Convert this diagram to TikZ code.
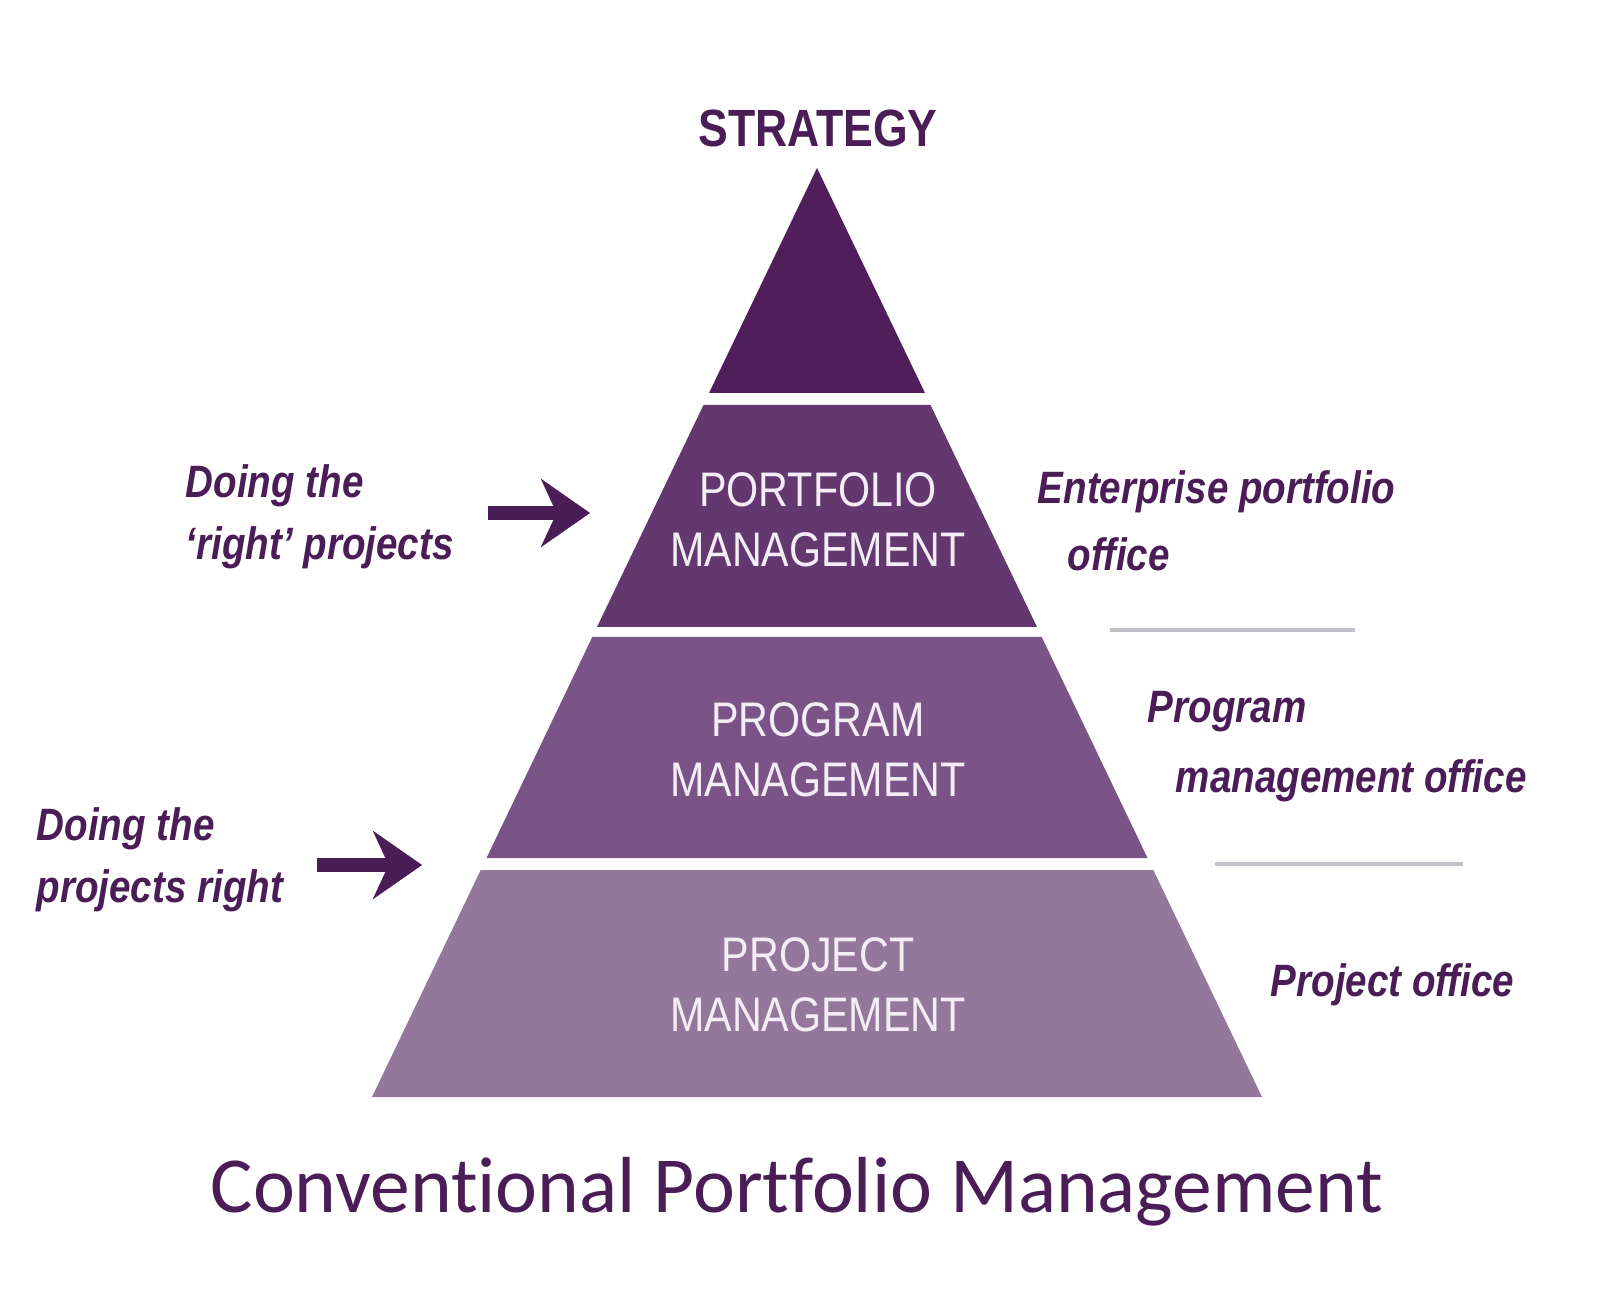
\documentclass[tikz,border=0pt]{standalone}
\usepackage{fontspec}
\setmainfont{Liberation Sans}
\newfontfamily\narrowfont[FakeStretch=0.85]{Liberation Sans}
\newfontfamily\captionfont[Ligatures=NoCommon]{Carlito}
\usetikzlibrary{arrows.meta,positioning}
\definecolor{tierA}{HTML}{4F1E5B}
\definecolor{tierB}{HTML}{62386E}
\definecolor{tierC}{HTML}{7A5486}
\definecolor{tierD}{HTML}{93789C}
\definecolor{ink}{HTML}{4A1D56}
\definecolor{pale}{HTML}{F4ECF6}
\definecolor{rulegrey}{HTML}{C4C0C8}

\begin{document}
\begin{tikzpicture}[x=0.01cm,y=-0.01cm,inner sep=0pt]
        \tikzstyle{tier}=[text=pale,align=center,font=\narrowfont\fontsize{13.8}{17.1}\selectfont]
        \tikzstyle{note}=[text=ink,align=left,anchor=north west,font=\narrowfont\bfseries\itshape\fontsize{12.9}{17.6}\selectfont]
        \tikzstyle{fat arrow}=[draw=ink,line width=3.7pt,-{Stealth[length=14pt,width=19.5pt,inset=4.5pt,line width=0.1pt]}]
        \tikzstyle{divider}=[draw=rulegrey,line width=1pt]

        \useasboundingbox (0,0) rectangle (1598,1304);

        % pyramid, top to bottom
        \fill[tierA] (817,168) -- (925,393) -- (709,393) -- cycle;
        \fill[tierB] (703.5,405) -- (930.5,405) -- (1037,627) -- (597,627) -- cycle;
        \fill[tierC] (592.3,637) -- (1041.7,637) -- (1147.5,858) -- (486.5,858) -- cycle;
        \fill[tierD] (480.7,870) -- (1153.3,870) -- (1262,1097) -- (372,1097) -- cycle;

        \node[text=ink,anchor=base,font=\narrowfont\bfseries\fontsize{14.9}{18}\selectfont]
              (strategy) at (818,147) {STRATEGY};
        \node[tier] (portfolio) at (818,520) {PORTFOLIO\\MANAGEMENT};
        \node[tier] (program)   at (818,750) {PROGRAM\\MANAGEMENT};
        \node[tier] (project)   at (818,985) {PROJECT\\MANAGEMENT};

        % left side
        \node[note] (rightprojects) at (185,464) {Doing the\\‘right’ projects};
        \node[note] (projectsright) at (36,807)  {Doing the\\projects right};
        \coordinate (tail1) at (488,513);
        \coordinate (aim1)  at (590,513);
        \coordinate (tail2) at (317,865);
        \coordinate (aim2)  at (422,865);
        \draw[fat arrow] (tail1) -- (aim1);
        \draw[fat arrow] (tail2) -- (aim2);

        % right side
        \node[note] (epo) at (1037,470) {Enterprise portfolio\\[1.5pt]\hspace*{8.5pt}office};
        \node[note] (pmo) at (1147,691) {Program\\[2.3pt]\hspace*{8pt}management office};
        \node[note] (po)  at (1270,963) {Project office};
        \coordinate (rule1a) at (1110,630);
        \coordinate (rule1b) at (1355,630);
        \coordinate (rule2a) at (1215,864);
        \coordinate (rule2b) at (1463,864);
        \draw[divider] (rule1a) -- (rule1b);
        \draw[divider] (rule2a) -- (rule2b);

        \node[text=ink,anchor=base,font=\captionfont\fontsize{22.6}{27}\selectfont]
              (caption) at (797,1212) {Conventional Portfolio Management};
\end{tikzpicture}
\end{document}
